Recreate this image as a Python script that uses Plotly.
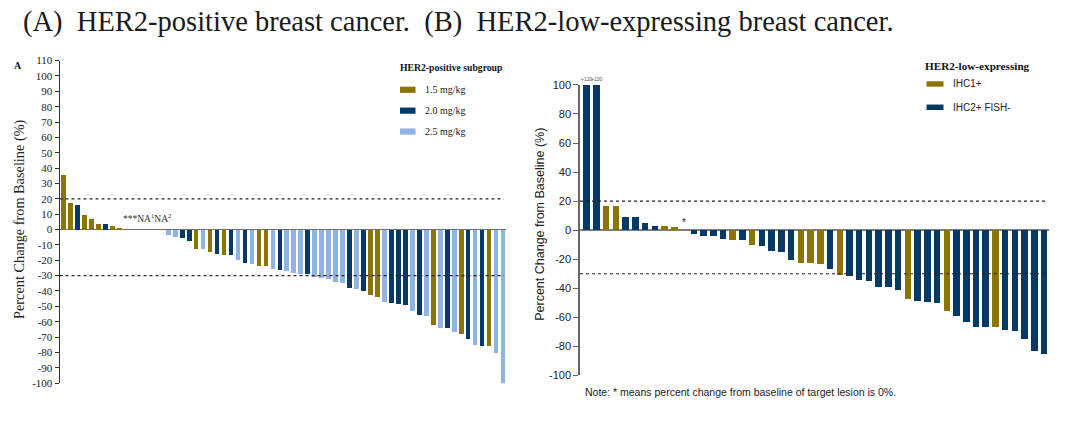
import plotly.graph_objects as go

# page offset (default body margin) and figure size
OFF = 8
WF, HF = 1066, 420

# ---------------- data ----------------
title_text = "(A)\u00a0 HER2-positive breast cancer.\u00a0 (B)\u00a0 HER2-low-expressing breast cancer."

# Panel A: HER2-positive (percent change from baseline), "" = no bar (*, NA slots)
a_values = [35.9, 17.5, 16.5, 9.7, 6.8, 3.8, 3.6, 2.7, 1.3,
            0, 0, 0, 0, 0, 0,
            -3.6, -4.9, -5.3, -7.2, -12.2, -12.2, -14.3, -15.4, -16.0, -16.5,
            -19.6, -21.7, -22.0, -23.4, -23.4, -25.7, -26.2, -27.0, -28.3, -28.7,
            -28.7, -30.8, -31.0, -32.0, -34.2, -34.4, -37.6, -38.6, -39.5, -42.6,
            -43.9, -46.6, -47.5, -48.1, -48.7, -52.7, -55.3, -56.3, -62.0, -63.7,
            -63.9, -66.7, -67.7, -70.7, -74.9, -75.5, -75.5, -80.0, -100.0]
a_groups = ["1.5", "1.5", "2.0", "1.5", "1.5", "1.5", "2.0", "1.5", "1.5",
            "", "", "", "", "", "",
            "2.5", "2.5", "2.0", "2.0", "1.5", "2.5", "1.5", "2.0", "1.5", "2.0",
            "2.5", "2.0", "2.5", "1.5", "1.5", "2.5", "2.0", "2.5", "2.5", "2.5",
            "2.0", "2.5", "2.5", "2.5", "2.5", "2.5", "2.0", "2.5", "2.0", "1.5",
            "1.5", "2.5", "2.0", "2.0", "2.0", "2.5", "2.0", "2.5", "1.5", "2.5",
            "2.0", "2.5", "1.5", "2.0", "2.5", "2.0", "1.5", "2.5", "2.5"]
a_legend_title = "HER2-positive subgroup"
a_legend_keys = ["1.5", "2.0", "2.5"]
a_legend_labels = ["1.5 mg/kg", "2.0 mg/kg", "2.5 mg/kg"]
a_na_text = "***NA<sup>1</sup>NA<sup>2</sup>"
a_ticks = [110, 100, 90, 80, 70, 60, 50, 40, 30, 20, 10, 0,
           -10, -20, -30, -40, -50, -60, -70, -80, -90, -100]

# Panel B: HER2-low-expressing
b_values = [120, 130, 16.7, 16.4, 9.3, 8.9, 5.3, 3.1, 2.7, 2.4,
            0,
            -2.9, -4.0, -4.2, -6.0, -6.9, -6.9, -10.0, -11.1, -14.4, -14.7,
            -20.7, -22.9, -22.9, -23.3, -26.7, -30.7, -31.6, -34.2, -34.7, -39.1,
            -39.1, -40.9, -47.1, -48.4, -49.3, -50.2, -55.6, -59.3, -62.9, -66.7,
            -66.7, -66.7, -68.7, -69.1, -74.9, -83.3, -84.9]
b_groups = ["IHC2", "IHC2", "IHC1", "IHC1", "IHC2", "IHC2", "IHC2", "IHC2", "IHC1", "IHC1",
            "",
            "IHC2", "IHC2", "IHC2", "IHC2", "IHC1", "IHC2", "IHC1", "IHC2", "IHC2", "IHC2",
            "IHC2", "IHC1", "IHC1", "IHC1", "IHC2", "IHC1", "IHC2", "IHC2", "IHC2", "IHC2",
            "IHC2", "IHC2", "IHC1", "IHC2", "IHC2", "IHC2", "IHC1", "IHC2", "IHC2", "IHC2",
            "IHC2", "IHC1", "IHC2", "IHC2", "IHC2", "IHC2", "IHC2"]
b_over_labels = ["+120", "+130"]
b_zero_mark = "*"
b_legend_title = "HER2-low-expressing"
b_legend_keys = ["IHC1", "IHC2"]
b_legend_labels = ["IHC1+", "IHC2+ FISH-"]
b_ticks = [100, 80, 60, 40, 20, 0, -20, -40, -60, -80, -100]
note_text = "Note: * means percent change from baseline of target lesion is 0%."
ytitle = "Percent Change from Baseline (%)"
thresholds = [20, -30]

# ---------------- styles ----------------
GOLD = "#8C7400"
NAVY = "#053A66"
LIGHT = "#8DB4E2"
colors = {"1.5": GOLD, "2.0": NAVY, "2.5": LIGHT, "IHC1": GOLD, "IHC2": NAVY, "": "rgba(0,0,0,0)"}
SERIF = "Liberation Serif"
SANS = "Liberation Sans"


def px(x):
    return (x - OFF) / WF


def py(y):
    return 1 - (y - OFF) / HF


fig = go.Figure()

a_x = list(range(len(a_values)))
fig.add_trace(go.Bar(x=a_x, y=a_values, width=0.67,
                     marker=dict(color=[colors[g] for g in a_groups], line=dict(width=0)),
                     xaxis="x", yaxis="y", showlegend=False, cliponaxis=True))
b_x = list(range(len(b_values)))
fig.add_trace(go.Bar(x=b_x, y=b_values, width=0.67,
                     marker=dict(color=[colors[g] for g in b_groups], line=dict(width=0)),
                     xaxis="x2", yaxis="y2", showlegend=False, cliponaxis=True))

# panel geometry (target pixels in the screenshot)
A_left, A_right, A_top, A_bot = 59.5, 506, 56, 388
B_left, B_right, B_top, B_bot = 580, 1049, 81, 380

fig.update_layout(
    width=WF, height=HF, margin=dict(l=0, r=0, t=0, b=0),
    paper_bgcolor="white", plot_bgcolor="white",
    barmode="overlay", bargap=0,
    xaxis=dict(domain=[px(A_left), px(A_right)], range=[-0.52, 63.5],
               showline=False, showticklabels=False, showgrid=False, zeroline=False, ticks=""),
    yaxis=dict(domain=[py(A_bot), py(A_top)], range=[-100, 110], anchor="x",
               showline=True, linecolor="#333333", linewidth=1,
               ticks="outside", ticklen=4, tickcolor="#333333", tickwidth=1,
               tickvals=a_ticks, ticktext=[str(t) for t in a_ticks],
               tickfont=dict(family=SERIF, size=11, color="#222222"),
               showgrid=False, zeroline=True, zerolinecolor="#707070", zerolinewidth=1.2),
    xaxis2=dict(domain=[px(B_left), px(B_right)], range=[-0.69, 47.5], anchor="y2",
                showline=False, showticklabels=False, showgrid=False, zeroline=False, ticks=""),
    yaxis2=dict(domain=[py(B_bot), py(B_top)], range=[-100, 100], anchor="x2",
                showline=True, linecolor="#666666", linewidth=1.5,
                ticks="outside", ticklen=5, tickcolor="#666666", tickwidth=1.2,
                tickvals=b_ticks, ticktext=[str(t) for t in b_ticks],
                tickfont=dict(family=SANS, size=11, color="#222222"),
                showgrid=False, zeroline=True, zerolinecolor="#808080", zerolinewidth=1.5),
)

shapes = []
for t in thresholds:
    shapes.append(dict(type="line", xref="x domain", yref="y", x0=0, x1=0.995, y0=t, y1=t,
                       line=dict(color="#222222", width=1.1, dash="dot")))
    shapes.append(dict(type="line", xref="x2 domain", yref="y2", x0=0, x1=0.998, y0=t, y1=t,
                       line=dict(color="#222222", width=1.1, dash="dot")))

annotations = []
annotations.append(dict(text=title_text, x=px(21), y=py(16), xref="paper", yref="paper",
                        xanchor="left", yanchor="middle", showarrow=False,
                        font=dict(family=SERIF, size=28.5, color="#1a1a1a")))
annotations.append(dict(text="<b>A</b>", x=px(12), y=py(61), xref="paper", yref="paper",
                        xanchor="left", yanchor="middle", showarrow=False,
                        font=dict(family=SERIF, size=10, color="#111111")))
annotations.append(dict(text=ytitle, x=px(20), y=py(219), xref="paper", yref="paper",
                        xanchor="center", yanchor="middle", showarrow=False, textangle=-90,
                        font=dict(family=SERIF, size=14.3, color="#222222")))
annotations.append(dict(text=ytitle, x=px(540), y=py(225), xref="paper", yref="paper",
                        xanchor="center", yanchor="middle", showarrow=False, textangle=-90,
                        font=dict(family=SANS, size=12.5, color="#222222")))
annotations.append(dict(text=a_na_text, x=8.35, y=7.5, xref="x", yref="y",
                        xanchor="left", yanchor="middle", showarrow=False,
                        font=dict(family=SERIF, size=9.5, color="#333333")))
zi = b_groups.index("")
annotations.append(dict(text=b_zero_mark, x=zi, y=5.5, xref="x2", yref="y2",
                        xanchor="center", yanchor="middle", showarrow=False,
                        font=dict(family=SANS, size=10, color="#222222")))
for i, lab in enumerate(b_over_labels):
    annotations.append(dict(text=lab, x=i, y=100, xref="x2", yref="y2",
                            xanchor="center", yanchor="bottom", yshift=1, showarrow=False,
                            font=dict(family=SANS, size=5, color="#555555")))
annotations.append(dict(text=note_text, x=px(583), y=py(397), xref="paper", yref="paper",
                        xanchor="left", yanchor="middle", showarrow=False,
                        font=dict(family=SANS, size=10.5, color="#222222")))

# legend A
annotations.append(dict(text="<b>" + a_legend_title + "</b>", x=px(398), y=py(63),
                        xref="paper", yref="paper", xanchor="left", yanchor="middle",
                        showarrow=False, font=dict(family=SERIF, size=9.7, color="#111111")))
for k, (key, lab) in enumerate(zip(a_legend_keys, a_legend_labels)):
    yc = 86 + k * 21.5
    shapes.append(dict(type="rect", xref="paper", yref="paper",
                       x0=px(400), x1=px(415.5), y0=py(yc - 3.2), y1=py(yc + 3.2),
                       fillcolor=colors[key], line=dict(width=0)))
    annotations.append(dict(text=lab, x=px(423), y=py(yc), xref="paper", yref="paper",
                            xanchor="left", yanchor="middle", showarrow=False,
                            font=dict(family=SERIF, size=10, color="#222222")))

# legend B
annotations.append(dict(text="<b>" + b_legend_title + "</b>", x=px(923), y=py(62),
                        xref="paper", yref="paper", xanchor="left", yanchor="middle",
                        showarrow=False, font=dict(family=SERIF, size=11.2, color="#111111")))
for k, (key, lab) in enumerate(zip(b_legend_keys, b_legend_labels)):
    yc = 80 + k * 24
    shapes.append(dict(type="rect", xref="paper", yref="paper",
                       x0=px(926.5), x1=px(943.5), y0=py(yc - 2.8), y1=py(yc + 2.8),
                       fillcolor=colors[key], line=dict(width=0)))
    annotations.append(dict(text=lab, x=px(951), y=py(yc), xref="paper", yref="paper",
                            xanchor="left", yanchor="middle", showarrow=False,
                            font=dict(family=SANS, size=10, color="#222222")))

fig.update_layout(shapes=shapes, annotations=annotations)
fig.write_html("out.html")
